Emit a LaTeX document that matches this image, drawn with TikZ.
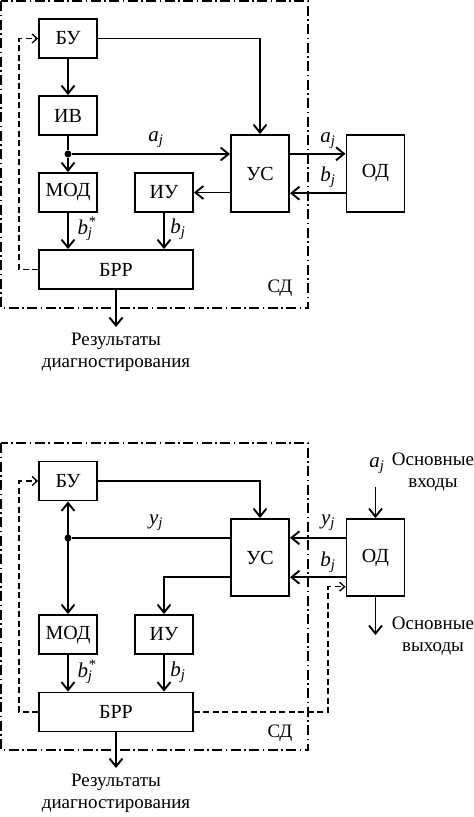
\documentclass[tikz,border=0pt]{standalone}
\usepackage{fontspec}
\setmainfont{Liberation Serif}
\usetikzlibrary{arrows.meta,calc}
\tikzset{
  blk/.style={draw, line width=1.9pt, minimum width=58pt, minimum height=39pt, inner sep=0pt, font=\fontsize{20}{22}\selectfont},
  tall/.style={blk, minimum height=77pt},
  wide/.style={blk, minimum width=154pt},
  wire/.style={line width=1.9pt},
  link/.style={wire, -{Straight Barb[length=8pt,width=13pt]}},
  both/.style={wire, {Straight Barb[length=8pt,width=13pt]}-{Straight Barb[length=8pt,width=13pt]}},
  fb/.style={line width=1.3pt, dash pattern=on 6pt off 3.5pt, -{Straight Barb[length=5pt,width=9pt]}},
  bnd/.style={line width=1.1pt, dash pattern=on 10pt off 3.5pt on 1.5pt off 3.5pt},
  lab/.style={font=\fontsize{21}{22}\selectfont\itshape, inner sep=0pt},
  txt/.style={font=\fontsize{19}{22}\selectfont, align=center, inner sep=0pt},
  dot/.style={circle, fill, inner sep=0pt, minimum size=7pt}
}
\newcommand{\sj}[1]{#1\textsubscript{j}}
\newcommand{\sjs}[1]{#1\textsuperscript{*}\kern-0.38em\textsubscript{j}}

\begin{document}
\begin{tikzpicture}[x=1pt,y=-1pt]
  \useasboundingbox (0,0) rectangle (474,817);

  % upper scheme
  \draw[bnd] (1,1) rectangle (308,308);
  \node[blk] (bu1) at (68,38.5) {БУ};
  \node[blk] (iv1) at (68,115.5) {ИВ};
  \node[blk] (mod1) at (68,192.5) {МОД};
  \node[blk] (iu1) at (164,192.5) {ИУ};
  \node[wide] (brr1) at (116,269.5) {БРР};
  \node[tall] (us1) at (260,173.5) {УС};
  \node[tall] (od1) at (375.5,173.5) {ОД};
  \node[dot] (j1) at (68,154) {};
  \coordinate (res1) at (116,327);

  \draw[link] (bu1) -- (iv1);
  \draw[wire] (iv1) -- (j1);
  \draw[link] (j1) -- (mod1);
  \draw[link] (j1) -- (j1 -| us1.west);
  \draw[link] (bu1.east) -| (us1.north);
  \draw[link] ($(us1.north east)!0.25!(us1.south east)$) -- ($(od1.north west)!0.25!(od1.south west)$);
  \draw[link] ($(od1.north west)!0.75!(od1.south west)$) -- ($(us1.north east)!0.75!(us1.south east)$);
  \draw[link] (us1.west |- iu1.east) -- (iu1.east);
  \draw[link] (mod1) -- (mod1 |- brr1.north);
  \draw[link] (iu1) -- (iu1 |- brr1.north);
  \draw[link] (brr1) -- (res1);
  \draw[fb] (brr1.west) -- ++(-19,0) |- (bu1.west);

  \node[lab] (aj1) at (156,140) {\sj{a}};
  \node[lab] (aj1r) at (328,141) {\sj{a}};
  \node[lab] (bj1r) at (328,177) {\sj{b}};
  \node[lab] (bs1) at (85,229) {\sjs{b}};
  \node[lab] (bj1) at (178,229) {\sj{b}};
  \node[txt] (sd1) at (280,288) {СД};
  \node[txt, below=6pt] (out1) at (res1) {Результаты\\диагностирования};

  % lower scheme
  \draw[bnd] (1,443) rectangle (308,750);
  \node[blk] (bu2) at (68,481) {БУ};
  \node[blk] (mod2) at (68,634.5) {МОД};
  \node[blk] (iu2) at (164,634.5) {ИУ};
  \node[wide] (brr2) at (116,712) {БРР};
  \node[tall] (us2) at (260,557.5) {УС};
  \node[tall] (od2) at (375.5,557.5) {ОД};
  \node[dot] (j2) at (68,538) {};
  \coordinate (in2) at (375.5,487);
  \coordinate (out2) at (375.5,635);
  \coordinate (res2) at (116,768);

  \draw[both] (bu2) -- (mod2);
  \draw[wire] (j2) -- (j2 -| us2.west);
  \draw[link] (bu2.east) -| (us2.north);
  \draw[link] ($(us2.north west)!0.75!(us2.south west)$) -| (iu2.north);
  \draw[link] ($(od2.north west)!0.25!(od2.south west)$) -- ($(us2.north east)!0.25!(us2.south east)$);
  \draw[link] ($(od2.north west)!0.75!(od2.south west)$) -- ($(us2.north east)!0.75!(us2.south east)$);
  \draw[link] (in2) -- (od2.north);
  \draw[link] (od2.south) -- (out2);
  \draw[link] (mod2) -- (mod2 |- brr2.north);
  \draw[link] (iu2) -- (iu2 |- brr2.north);
  \draw[link] (brr2) -- (res2);
  \draw[fb] (brr2.west) -- ++(-19,0) |- (bu2.west);
  \draw[fb] (brr2.east) -- (328,712) |- ($(od2.north west)!0.87!(od2.south west)$);

  \node[lab] (yj2) at (156,523) {\sj{y}};
  \node[lab] (yj2r) at (328,523) {\sj{y}};
  \node[lab] (bj2r) at (328,562) {\sj{b}};
  \node[lab] (aj2) at (377,466) {\sj{a}};
  \node[txt] (inp2) at (433,472) {Основные\\входы};
  \node[txt] (outp2) at (433,636) {Основные\\выходы};
  \node[lab] (bs2) at (85,672) {\sjs{b}};
  \node[lab] (bj2) at (178,672) {\sj{b}};
  \node[txt] (sd2) at (280,733) {СД};
  \node[txt, below=6pt] (out2t) at (res2) {Результаты\\диагностирования};
\end{tikzpicture}
\end{document}
